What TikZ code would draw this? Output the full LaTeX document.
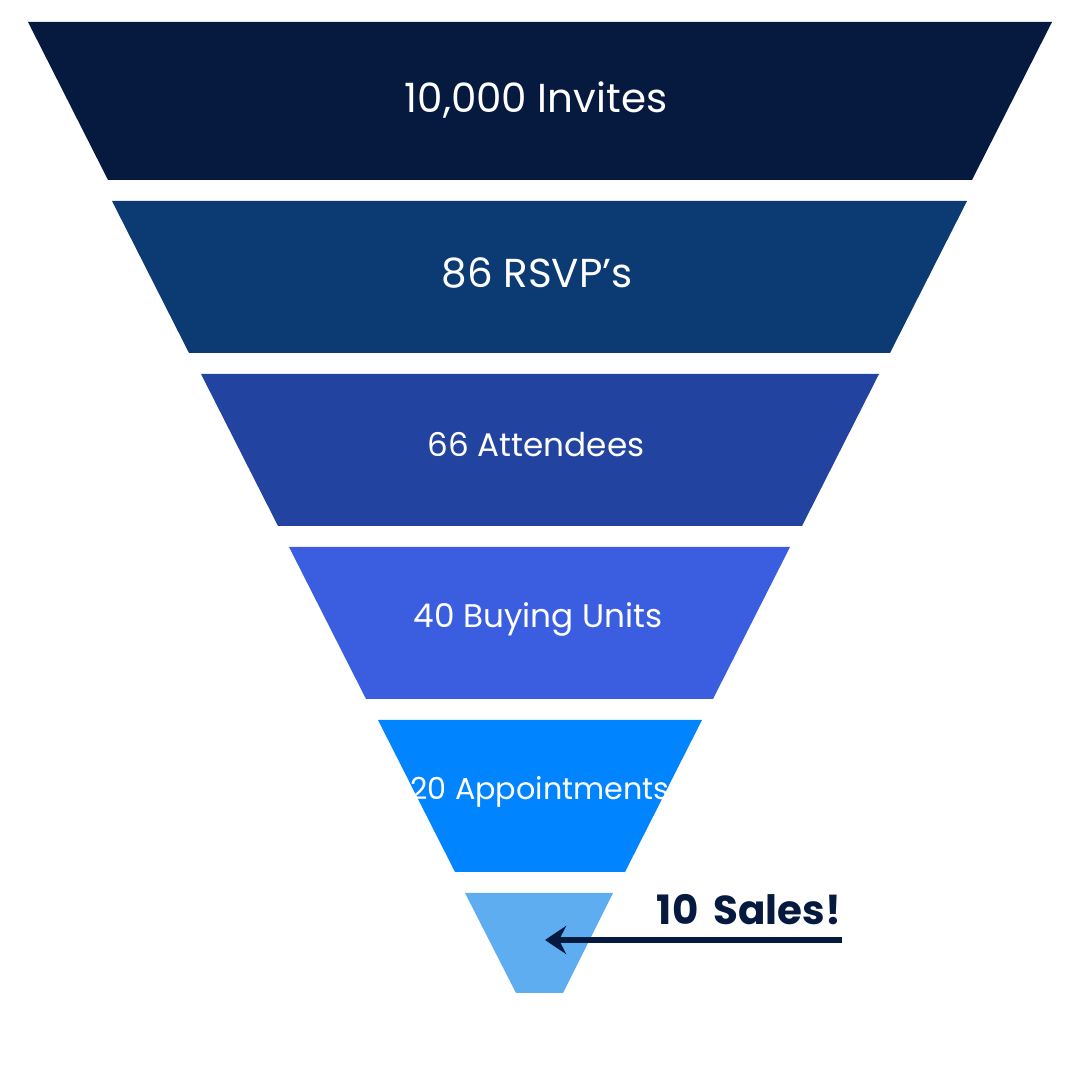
\documentclass[tikz,border=0pt]{standalone}
\usepackage{fontspec}
\setmainfont{Poppins}
\usepackage{tikz}
\usetikzlibrary{arrows.meta,positioning}
\definecolor{navyA}{HTML}{061A40}
\definecolor{navyB}{HTML}{0C3A73}
\definecolor{blueC}{HTML}{2243A0}
\definecolor{blueD}{HTML}{3B5EE0}
\definecolor{blueE}{HTML}{0084FF}
\definecolor{blueF}{HTML}{5DADF0}
\tikzset{
    steptext/.style={
           text=white,
           inner sep=0pt,
           },
}

\begin{document}
\begin{tikzpicture}
        \useasboundingbox (0,0) rectangle (10.8,10.8);

        % STAGES
        \fill[navyA] (0.28,10.58) -- (10.52,10.58) -- (9.72,9.00) -- (1.08,9.00) -- cycle;
        \fill[navyB] (1.12,8.79) -- (9.67,8.79) -- (8.90,7.27) -- (1.89,7.27) -- cycle;
        \fill[blueC] (2.01,7.06) -- (8.79,7.06) -- (8.02,5.54) -- (2.78,5.54) -- cycle;
        \fill[blueD] (2.89,5.33) -- (7.90,5.33) -- (7.13,3.81) -- (3.66,3.81) -- cycle;
        \fill[blueE] (3.78,3.60) -- (7.02,3.60) -- (6.25,2.08) -- (4.55,2.08) -- cycle;
        \fill[blueF] (4.65,1.87) -- (6.13,1.87) -- (5.63,0.87) -- (5.16,0.87) -- cycle;

        % LABELS
        \node[steptext,font=\fontsize{11.5}{13}\selectfont] (INVITES) at (5.36,9.80) {10,000 Invites};
        \node[steptext,font=\fontsize{11.5}{13}\selectfont] (RSVP) at (5.37,8.07) {86 RSVP’s};
        \node[steptext,font=\fontsize{9.3}{11}\selectfont] (ATTEND) at (5.36,6.35) {66 Attendees};
        \node[steptext,font=\fontsize{9.3}{11}\selectfont] (BUYING) at (5.38,4.61) {40 Buying Units};
        \node[steptext,font=\fontsize{8.6}{10}\selectfont] (APPOINT) at (5.40,2.88) {20 Appointments};
        \node[steptext,text=navyA,font=\bfseries\fontsize{11.5}{13}\selectfont] (SALES) at (7.49,1.70) {10\, Sales!};

        % ARROW
        \coordinate (TAIL) at (8.42,1.40);
        \coordinate (HEAD) at (5.45,1.40);
        \draw[navyA,line width=1.6pt,-{Stealth[length=6pt,width=8pt,inset=2pt]}] (TAIL) -- (HEAD);
\end{tikzpicture}
\end{document}
